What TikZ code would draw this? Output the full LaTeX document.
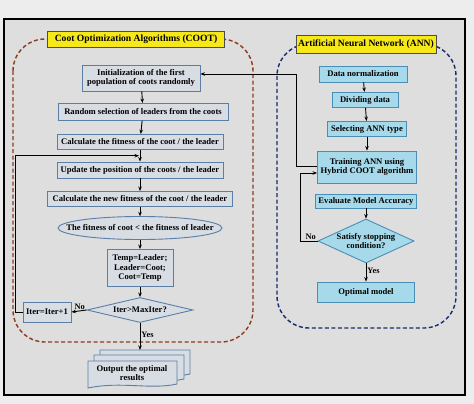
\documentclass[tikz,border=0pt]{standalone}
\usepackage{fontspec}
\setmainfont{Liberation Serif}
\usetikzlibrary{shapes.geometric,arrows.meta,calc}
\definecolor{bgout}{HTML}{EDEDED}
\definecolor{bgin}{HTML}{DEDEDE}
\definecolor{lfill}{HTML}{D8DCE3}
\definecolor{ledge}{HTML}{5B7EA6}
\definecolor{rfill}{HTML}{A6DAEA}
\definecolor{redge}{HTML}{4A8DB5}
\definecolor{ttl}{HTML}{F7E81A}
\definecolor{brownd}{HTML}{8E3B1E}
\definecolor{blued}{HTML}{1B2A6B}
\tikzset{
  txt/.style={font=\fontsize{8.6}{9.8}\selectfont\bfseries, align=center, inner sep=0pt},
  lbox/.style={txt, draw=ledge, fill=lfill, line width=0.9pt},
  rbox/.style={txt, draw=redge, fill=rfill, line width=0.9pt},
  titlebox/.style={font=\fontsize{9.6}{11}\selectfont\bfseries, draw=black!70, fill=ttl, line width=0.6pt, inner sep=0pt},
  arr/.style={-{Stealth[length=4.5pt,width=3.5pt]}, line width=0.9pt},
  lab/.style={font=\fontsize{8.4}{10}\selectfont\bfseries, inner sep=1pt},
  docsh/.style={draw=ledge, fill=lfill, line width=0.9pt},
}
\begin{document}
\begin{tikzpicture}[x=1pt,y=-1pt]
\useasboundingbox (0,0) rectangle (474,404);
\fill[bgout] (0,0) rectangle (474,404);
\draw[fill=bgin, line width=1.4pt] (4,19) rectangle (465,395);
% dashed containers
\draw[brownd, dash pattern=on 4pt off 2.5pt, line width=1.4pt, rounded corners=32pt] (13,39) rectangle (253,342);
\draw[blued, dash pattern=on 4pt off 2.5pt, line width=1.4pt, rounded corners=32pt] (277,44) rectangle (456,328);
% titles
\node[titlebox, minimum width=177, minimum height=16] (t1) at (136,39) {Coot Optimization Algorithms (COOT)};
\node[titlebox, minimum width=140, minimum height=18] (t2) at (366,44) {Artificial Neural Network (ANN)};
% left column
\node[lbox, minimum width=118, minimum height=26] (n1) at (141,78) {Initialization of the first\\population of coots randomly};
\node[lbox, minimum width=170, minimum height=17] (n2) at (143,112) {Random selection of leaders from the coots};
\node[lbox, minimum width=166, minimum height=15] (n3) at (140,142) {Calculate the fitness of the coot / the leader};
\node[lbox, minimum width=166, minimum height=16] (n4) at (140,170) {Update the position of the coots / the leader};
\node[lbox, minimum width=185, minimum height=15] (n5) at (140,199) {Calculate the new fitness of the coot / the leader};
\draw[draw=ledge, fill=lfill, line width=0.9pt] (140,228) ellipse [x radius=82, y radius=11.5];
\node[txt, minimum width=164, minimum height=23] (n6) at (140,228) {The fitness of coot < the fitness of leader};
\node[lbox, minimum width=66, minimum height=37] (n7) at (140,268) {Temp=Leader;\\Leader=Coot;\\Coot=Temp};
\node[lbox, diamond, aspect=4, minimum width=106, minimum height=25] (d1) at (140,310) {Iter>MaxIter?};
\node[lbox, minimum width=48, minimum height=20] (i1) at (47,312) {Iter=Iter+1};
% output stack
\draw[docsh] (100,350) -- (190,350) -- (190,374) .. controls (163,380) and (135,371) .. (100,378) -- cycle;
\draw[docsh] (94,355) -- (184,355) -- (184,379) .. controls (157,385) and (129,376) .. (94,383) -- cycle;
\draw[docsh] (88,361) -- (177,361) -- (177,384) .. controls (150,390) and (122,381) .. (88,388) -- cycle;
\node[txt] (out) at (132,373) {Output the optimal\\results};
\coordinate (outtop) at (140,350);
% right column
\node[rbox, minimum width=88, minimum height=16] (r1) at (363,74) {Data normalization};
\node[rbox, minimum width=66, minimum height=15] (r2) at (365,100) {Dividing data};
\node[rbox, minimum width=79, minimum height=15] (r3) at (367,129) {Selecting ANN type};
\node[rbox, minimum width=99, minimum height=32] (r4) at (367,167) {Training ANN using\\Hybrid COOT algorithm};
\node[rbox, minimum width=101, minimum height=14] (r5) at (366,201) {Evaluate Model Accuracy};
\node[rbox, diamond, aspect=2.2, minimum width=96, minimum height=44] (d2) at (366,241) {Satisfy stopping\\condition?};
\node[rbox, minimum width=97, minimum height=20] (r6) at (366,292) {Optimal model};
% left arrows
\draw[arr] (n1) -- (n2);
\draw[arr] (n2) -- (n3);
\draw[arr] (n3) -- (n4);
\draw[arr] (n4) -- (n5);
\draw[arr] (n5) -- (n6);
\draw[arr] (n6) -- (n7);
\draw[arr] (n7) -- (d1);
\draw[arr] (d1.west) -- node[lab, above, pos=0.45] {No} (i1.east);
\draw[arr] (d1.south) -- node[lab, right, pos=0.45] {Yes} (outtop);
\coordinate (loopin) at ($(n3.south)!0.5!(n4.north)$);
\draw[arr] (i1.west) -- ++(-7,0) |- ([xshift=-1pt]loopin);
% right arrows
\draw[arr] (r1) -- (r2);
\draw[arr] (r2) -- (r3);
\draw[arr] (r3) -- (r4);
\draw[arr] (r5) -- (d2);
\draw[arr] (d2.south) -- node[lab, right, pos=0.4] {Yes} (r6);
\draw[arr] (d2.west) -- node[lab, above, pos=0.4] {No} ++(-17,0) |- ([yshift=-6pt]r4.west);
\draw[arr] ([yshift=1pt]r4.west) -- ++(-21,0) |- ([yshift=4pt]n1.east);
\end{tikzpicture}
\end{document}
